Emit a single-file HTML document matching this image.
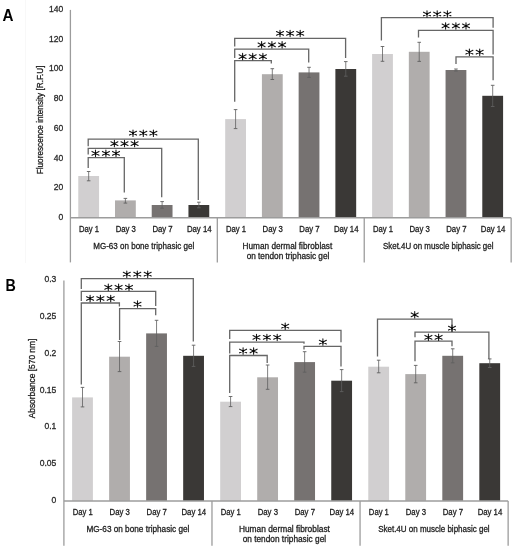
<!DOCTYPE html>
<html><head><meta charset="utf-8"><style>
html,body{margin:0;padding:0;background:#fff;}
svg{display:block;font-family:"Liberation Sans", sans-serif;will-change:transform;}
</style></head><body>
<svg width="516" height="550" viewBox="0 0 516 550">
<rect width="516" height="550" fill="#fff"/>
<rect x="78.27" y="176.00" width="20.80" height="41.80" fill="#d1cfd0"/>
<line x1="88.67" y1="171.50" x2="88.67" y2="180.80" stroke="#606060" stroke-width="0.8"/>
<line x1="86.87" y1="171.50" x2="90.47" y2="171.50" stroke="#606060" stroke-width="0.9"/>
<line x1="86.87" y1="180.80" x2="90.47" y2="180.80" stroke="#606060" stroke-width="0.9"/>
<rect x="115.00" y="200.40" width="20.80" height="17.40" fill="#b0adac"/>
<line x1="125.40" y1="198.40" x2="125.40" y2="203.10" stroke="#606060" stroke-width="0.8"/>
<line x1="123.60" y1="198.40" x2="127.20" y2="198.40" stroke="#606060" stroke-width="0.9"/>
<line x1="123.60" y1="203.10" x2="127.20" y2="203.10" stroke="#606060" stroke-width="0.9"/>
<rect x="151.72" y="205.00" width="20.80" height="12.80" fill="#767271"/>
<line x1="162.12" y1="201.60" x2="162.12" y2="208.20" stroke="#606060" stroke-width="0.8"/>
<line x1="160.32" y1="201.60" x2="163.93" y2="201.60" stroke="#606060" stroke-width="0.9"/>
<line x1="160.32" y1="208.20" x2="163.93" y2="208.20" stroke="#606060" stroke-width="0.9"/>
<rect x="188.45" y="205.00" width="20.80" height="12.80" fill="#3a3836"/>
<line x1="198.85" y1="202.20" x2="198.85" y2="207.80" stroke="#606060" stroke-width="0.8"/>
<line x1="197.05" y1="202.20" x2="200.66" y2="202.20" stroke="#606060" stroke-width="0.9"/>
<line x1="197.05" y1="207.80" x2="200.66" y2="207.80" stroke="#606060" stroke-width="0.9"/>
<rect x="225.19" y="119.10" width="20.80" height="98.70" fill="#d1cfd0"/>
<line x1="235.59" y1="109.60" x2="235.59" y2="128.60" stroke="#606060" stroke-width="0.8"/>
<line x1="233.78" y1="109.60" x2="237.39" y2="109.60" stroke="#606060" stroke-width="0.9"/>
<line x1="233.78" y1="128.60" x2="237.39" y2="128.60" stroke="#606060" stroke-width="0.9"/>
<rect x="261.91" y="74.20" width="20.80" height="143.60" fill="#b0adac"/>
<line x1="272.31" y1="68.70" x2="272.31" y2="79.50" stroke="#606060" stroke-width="0.8"/>
<line x1="270.51" y1="68.70" x2="274.11" y2="68.70" stroke="#606060" stroke-width="0.9"/>
<line x1="270.51" y1="79.50" x2="274.11" y2="79.50" stroke="#606060" stroke-width="0.9"/>
<rect x="298.64" y="72.40" width="20.80" height="145.40" fill="#767271"/>
<line x1="309.04" y1="67.30" x2="309.04" y2="77.40" stroke="#606060" stroke-width="0.8"/>
<line x1="307.24" y1="67.30" x2="310.84" y2="67.30" stroke="#606060" stroke-width="0.9"/>
<line x1="307.24" y1="77.40" x2="310.84" y2="77.40" stroke="#606060" stroke-width="0.9"/>
<rect x="335.38" y="69.00" width="20.80" height="148.80" fill="#3a3836"/>
<line x1="345.77" y1="61.60" x2="345.77" y2="76.20" stroke="#606060" stroke-width="0.8"/>
<line x1="343.97" y1="61.60" x2="347.57" y2="61.60" stroke="#606060" stroke-width="0.9"/>
<line x1="343.97" y1="76.20" x2="347.57" y2="76.20" stroke="#606060" stroke-width="0.9"/>
<rect x="372.11" y="54.00" width="20.80" height="163.80" fill="#d1cfd0"/>
<line x1="382.50" y1="46.50" x2="382.50" y2="61.30" stroke="#606060" stroke-width="0.8"/>
<line x1="380.70" y1="46.50" x2="384.31" y2="46.50" stroke="#606060" stroke-width="0.9"/>
<line x1="380.70" y1="61.30" x2="384.31" y2="61.30" stroke="#606060" stroke-width="0.9"/>
<rect x="408.83" y="51.80" width="20.80" height="166.00" fill="#b0adac"/>
<line x1="419.23" y1="42.30" x2="419.23" y2="61.40" stroke="#606060" stroke-width="0.8"/>
<line x1="417.43" y1="42.30" x2="421.03" y2="42.30" stroke="#606060" stroke-width="0.9"/>
<line x1="417.43" y1="61.40" x2="421.03" y2="61.40" stroke="#606060" stroke-width="0.9"/>
<rect x="445.56" y="70.00" width="20.80" height="147.80" fill="#767271"/>
<line x1="455.96" y1="69.00" x2="455.96" y2="71.00" stroke="#606060" stroke-width="0.8"/>
<line x1="454.16" y1="69.00" x2="457.76" y2="69.00" stroke="#606060" stroke-width="0.9"/>
<line x1="454.16" y1="71.00" x2="457.76" y2="71.00" stroke="#606060" stroke-width="0.9"/>
<rect x="482.29" y="95.80" width="20.80" height="122.00" fill="#3a3836"/>
<line x1="492.69" y1="85.30" x2="492.69" y2="106.50" stroke="#606060" stroke-width="0.8"/>
<line x1="490.89" y1="85.30" x2="494.49" y2="85.30" stroke="#606060" stroke-width="0.9"/>
<line x1="490.89" y1="106.50" x2="494.49" y2="106.50" stroke="#606060" stroke-width="0.9"/>
<line x1="70.40" y1="9.90" x2="70.40" y2="262.40" stroke="#9c9c9c" stroke-width="1.3"/>
<line x1="70.40" y1="217.80" x2="511.16" y2="217.80" stroke="#9c9c9c" stroke-width="1.5"/>
<line x1="217.32" y1="217.80" x2="217.32" y2="262.40" stroke="#9c9c9c" stroke-width="1.3"/>
<line x1="364.24" y1="217.80" x2="364.24" y2="262.40" stroke="#9c9c9c" stroke-width="1.3"/>
<line x1="511.16" y1="217.80" x2="511.16" y2="262.40" stroke="#9c9c9c" stroke-width="1.3"/>
<path d="M88.20 168.00 L88.20 157.60 L124.30 157.60 L124.30 192.60" stroke="#666666" stroke-width="1.3" fill="none"/>
<path d="M88.20 154.60 L88.20 148.30 L161.70 148.30 L161.70 197.20" stroke="#666666" stroke-width="1.3" fill="none"/>
<path d="M88.20 146.20 L88.20 139.10 L198.30 139.10 L198.30 200.00" stroke="#666666" stroke-width="1.3" fill="none"/>
<path d="M234.70 46.50 L234.70 38.40 L345.60 38.40 L345.60 58.00" stroke="#666666" stroke-width="1.3" fill="none"/>
<path d="M234.70 58.10 L234.70 49.20 L308.70 49.20 L308.70 62.60" stroke="#666666" stroke-width="1.3" fill="none"/>
<path d="M234.70 101.80 L234.70 60.60 L271.30 60.60 L271.30 63.60" stroke="#666666" stroke-width="1.3" fill="none"/>
<path d="M381.40 40.50 L381.40 17.60 L493.10 17.60 L493.10 27.70" stroke="#666666" stroke-width="1.3" fill="none"/>
<path d="M418.50 37.60 L418.50 30.30 L493.10 30.30 L493.10 54.50" stroke="#666666" stroke-width="1.3" fill="none"/>
<path d="M456.00 64.00 L456.00 56.80 L493.10 56.80 L493.10 80.30" stroke="#666666" stroke-width="1.3" fill="none"/>
<path d="M95.50 150.10V156.50M92.00 151.45L99.00 155.15M92.00 155.15L99.00 151.45" stroke="#1a1a1a" stroke-width="1.1" stroke-linecap="round" fill="none"/><circle cx="95.50" cy="153.30" r="0.95" fill="#000"/>
<path d="M105.90 150.10V156.50M102.40 151.45L109.40 155.15M102.40 155.15L109.40 151.45" stroke="#1a1a1a" stroke-width="1.1" stroke-linecap="round" fill="none"/><circle cx="105.90" cy="153.30" r="0.95" fill="#000"/>
<path d="M116.00 150.10V156.50M112.50 151.45L119.50 155.15M112.50 155.15L119.50 151.45" stroke="#1a1a1a" stroke-width="1.1" stroke-linecap="round" fill="none"/><circle cx="116.00" cy="153.30" r="0.95" fill="#000"/>
<path d="M114.40 140.40V146.80M110.90 141.75L117.90 145.45M110.90 145.45L117.90 141.75" stroke="#1a1a1a" stroke-width="1.1" stroke-linecap="round" fill="none"/><circle cx="114.40" cy="143.60" r="0.95" fill="#000"/>
<path d="M124.50 140.40V146.80M121.00 141.75L128.00 145.45M121.00 145.45L128.00 141.75" stroke="#1a1a1a" stroke-width="1.1" stroke-linecap="round" fill="none"/><circle cx="124.50" cy="143.60" r="0.95" fill="#000"/>
<path d="M134.60 140.40V146.80M131.10 141.75L138.10 145.45M131.10 145.45L138.10 141.75" stroke="#1a1a1a" stroke-width="1.1" stroke-linecap="round" fill="none"/><circle cx="134.60" cy="143.60" r="0.95" fill="#000"/>
<path d="M133.00 130.00V136.40M129.50 131.35L136.50 135.05M129.50 135.05L136.50 131.35" stroke="#1a1a1a" stroke-width="1.1" stroke-linecap="round" fill="none"/><circle cx="133.00" cy="133.20" r="0.95" fill="#000"/>
<path d="M143.30 130.00V136.40M139.80 131.35L146.80 135.05M139.80 135.05L146.80 131.35" stroke="#1a1a1a" stroke-width="1.1" stroke-linecap="round" fill="none"/><circle cx="143.30" cy="133.20" r="0.95" fill="#000"/>
<path d="M153.40 130.00V136.40M149.90 131.35L156.90 135.05M149.90 135.05L156.90 131.35" stroke="#1a1a1a" stroke-width="1.1" stroke-linecap="round" fill="none"/><circle cx="153.40" cy="133.20" r="0.95" fill="#000"/>
<path d="M242.60 53.40V59.80M239.10 54.75L246.10 58.45M239.10 58.45L246.10 54.75" stroke="#1a1a1a" stroke-width="1.1" stroke-linecap="round" fill="none"/><circle cx="242.60" cy="56.60" r="0.95" fill="#000"/>
<path d="M252.70 53.40V59.80M249.20 54.75L256.20 58.45M249.20 58.45L256.20 54.75" stroke="#1a1a1a" stroke-width="1.1" stroke-linecap="round" fill="none"/><circle cx="252.70" cy="56.60" r="0.95" fill="#000"/>
<path d="M262.90 53.40V59.80M259.40 54.75L266.40 58.45M259.40 58.45L266.40 54.75" stroke="#1a1a1a" stroke-width="1.1" stroke-linecap="round" fill="none"/><circle cx="262.90" cy="56.60" r="0.95" fill="#000"/>
<path d="M261.60 41.60V48.00M258.10 42.95L265.10 46.65M258.10 46.65L265.10 42.95" stroke="#1a1a1a" stroke-width="1.1" stroke-linecap="round" fill="none"/><circle cx="261.60" cy="44.80" r="0.95" fill="#000"/>
<path d="M271.90 41.60V48.00M268.40 42.95L275.40 46.65M268.40 46.65L275.40 42.95" stroke="#1a1a1a" stroke-width="1.1" stroke-linecap="round" fill="none"/><circle cx="271.90" cy="44.80" r="0.95" fill="#000"/>
<path d="M282.10 41.60V48.00M278.60 42.95L285.60 46.65M278.60 46.65L285.60 42.95" stroke="#1a1a1a" stroke-width="1.1" stroke-linecap="round" fill="none"/><circle cx="282.10" cy="44.80" r="0.95" fill="#000"/>
<path d="M280.00 30.20V36.60M276.50 31.55L283.50 35.25M276.50 35.25L283.50 31.55" stroke="#1a1a1a" stroke-width="1.1" stroke-linecap="round" fill="none"/><circle cx="280.00" cy="33.40" r="0.95" fill="#000"/>
<path d="M290.10 30.20V36.60M286.60 31.55L293.60 35.25M286.60 35.25L293.60 31.55" stroke="#1a1a1a" stroke-width="1.1" stroke-linecap="round" fill="none"/><circle cx="290.10" cy="33.40" r="0.95" fill="#000"/>
<path d="M300.20 30.20V36.60M296.70 31.55L303.70 35.25M296.70 35.25L303.70 31.55" stroke="#1a1a1a" stroke-width="1.1" stroke-linecap="round" fill="none"/><circle cx="300.20" cy="33.40" r="0.95" fill="#000"/>
<path d="M427.00 10.80V17.20M423.50 12.15L430.50 15.85M423.50 15.85L430.50 12.15" stroke="#1a1a1a" stroke-width="1.1" stroke-linecap="round" fill="none"/><circle cx="427.00" cy="14.00" r="0.95" fill="#000"/>
<path d="M437.20 10.80V17.20M433.70 12.15L440.70 15.85M433.70 15.85L440.70 12.15" stroke="#1a1a1a" stroke-width="1.1" stroke-linecap="round" fill="none"/><circle cx="437.20" cy="14.00" r="0.95" fill="#000"/>
<path d="M447.40 10.80V17.20M443.90 12.15L450.90 15.85M443.90 15.85L450.90 12.15" stroke="#1a1a1a" stroke-width="1.1" stroke-linecap="round" fill="none"/><circle cx="447.40" cy="14.00" r="0.95" fill="#000"/>
<path d="M445.60 22.70V29.10M442.10 24.05L449.10 27.75M442.10 27.75L449.10 24.05" stroke="#1a1a1a" stroke-width="1.1" stroke-linecap="round" fill="none"/><circle cx="445.60" cy="25.90" r="0.95" fill="#000"/>
<path d="M455.90 22.70V29.10M452.40 24.05L459.40 27.75M452.40 27.75L459.40 24.05" stroke="#1a1a1a" stroke-width="1.1" stroke-linecap="round" fill="none"/><circle cx="455.90" cy="25.90" r="0.95" fill="#000"/>
<path d="M466.00 22.70V29.10M462.50 24.05L469.50 27.75M462.50 27.75L469.50 24.05" stroke="#1a1a1a" stroke-width="1.1" stroke-linecap="round" fill="none"/><circle cx="466.00" cy="25.90" r="0.95" fill="#000"/>
<path d="M469.40 49.00V55.40M465.90 50.35L472.90 54.05M465.90 54.05L472.90 50.35" stroke="#1a1a1a" stroke-width="1.1" stroke-linecap="round" fill="none"/><circle cx="469.40" cy="52.20" r="0.95" fill="#000"/>
<path d="M479.70 49.00V55.40M476.20 50.35L483.20 54.05M476.20 54.05L483.20 50.35" stroke="#1a1a1a" stroke-width="1.1" stroke-linecap="round" fill="none"/><circle cx="479.70" cy="52.20" r="0.95" fill="#000"/>
<text x="63.20" y="219.90" font-size="9.1" text-anchor="end" fill="#2a2a2a" textLength="4.76" lengthAdjust="spacingAndGlyphs" stroke="#2a2a2a" stroke-width="0.3">0</text>
<text x="63.20" y="190.20" font-size="9.1" text-anchor="end" fill="#2a2a2a" textLength="9.51" lengthAdjust="spacingAndGlyphs" stroke="#2a2a2a" stroke-width="0.3">20</text>
<text x="63.20" y="160.50" font-size="9.1" text-anchor="end" fill="#2a2a2a" textLength="9.51" lengthAdjust="spacingAndGlyphs" stroke="#2a2a2a" stroke-width="0.3">40</text>
<text x="63.20" y="130.80" font-size="9.1" text-anchor="end" fill="#2a2a2a" textLength="9.51" lengthAdjust="spacingAndGlyphs" stroke="#2a2a2a" stroke-width="0.3">60</text>
<text x="63.20" y="101.10" font-size="9.1" text-anchor="end" fill="#2a2a2a" textLength="9.51" lengthAdjust="spacingAndGlyphs" stroke="#2a2a2a" stroke-width="0.3">80</text>
<text x="63.20" y="71.40" font-size="9.1" text-anchor="end" fill="#2a2a2a" textLength="14.27" lengthAdjust="spacingAndGlyphs" stroke="#2a2a2a" stroke-width="0.3">100</text>
<text x="63.20" y="41.70" font-size="9.1" text-anchor="end" fill="#2a2a2a" textLength="14.27" lengthAdjust="spacingAndGlyphs" stroke="#2a2a2a" stroke-width="0.3">120</text>
<text x="63.20" y="12.00" font-size="9.1" text-anchor="end" fill="#2a2a2a" textLength="14.27" lengthAdjust="spacingAndGlyphs" stroke="#2a2a2a" stroke-width="0.3">140</text>
<text x="89.06" y="231.80" font-size="8.6" text-anchor="middle" fill="#1e1e1e" textLength="20.0" lengthAdjust="spacingAndGlyphs" stroke="#1e1e1e" stroke-width="0.3">Day 1</text>
<text x="125.80" y="231.80" font-size="8.6" text-anchor="middle" fill="#1e1e1e" textLength="20.3" lengthAdjust="spacingAndGlyphs" stroke="#1e1e1e" stroke-width="0.3">Day 3</text>
<text x="162.53" y="231.80" font-size="8.6" text-anchor="middle" fill="#1e1e1e" textLength="20.3" lengthAdjust="spacingAndGlyphs" stroke="#1e1e1e" stroke-width="0.3">Day 7</text>
<text x="199.25" y="231.80" font-size="8.6" text-anchor="middle" fill="#1e1e1e" textLength="24.6" lengthAdjust="spacingAndGlyphs" stroke="#1e1e1e" stroke-width="0.3">Day 14</text>
<text x="235.99" y="231.80" font-size="8.6" text-anchor="middle" fill="#1e1e1e" textLength="20.0" lengthAdjust="spacingAndGlyphs" stroke="#1e1e1e" stroke-width="0.3">Day 1</text>
<text x="272.71" y="231.80" font-size="8.6" text-anchor="middle" fill="#1e1e1e" textLength="20.3" lengthAdjust="spacingAndGlyphs" stroke="#1e1e1e" stroke-width="0.3">Day 3</text>
<text x="309.44" y="231.80" font-size="8.6" text-anchor="middle" fill="#1e1e1e" textLength="20.3" lengthAdjust="spacingAndGlyphs" stroke="#1e1e1e" stroke-width="0.3">Day 7</text>
<text x="346.18" y="231.80" font-size="8.6" text-anchor="middle" fill="#1e1e1e" textLength="24.6" lengthAdjust="spacingAndGlyphs" stroke="#1e1e1e" stroke-width="0.3">Day 14</text>
<text x="382.91" y="231.80" font-size="8.6" text-anchor="middle" fill="#1e1e1e" textLength="20.0" lengthAdjust="spacingAndGlyphs" stroke="#1e1e1e" stroke-width="0.3">Day 1</text>
<text x="419.63" y="231.80" font-size="8.6" text-anchor="middle" fill="#1e1e1e" textLength="20.3" lengthAdjust="spacingAndGlyphs" stroke="#1e1e1e" stroke-width="0.3">Day 3</text>
<text x="456.36" y="231.80" font-size="8.6" text-anchor="middle" fill="#1e1e1e" textLength="20.3" lengthAdjust="spacingAndGlyphs" stroke="#1e1e1e" stroke-width="0.3">Day 7</text>
<text x="493.09" y="231.80" font-size="8.6" text-anchor="middle" fill="#1e1e1e" textLength="24.6" lengthAdjust="spacingAndGlyphs" stroke="#1e1e1e" stroke-width="0.3">Day 14</text>
<text x="143.70" y="248.80" font-size="8.7" text-anchor="middle" fill="#1e1e1e" textLength="101" lengthAdjust="spacingAndGlyphs" stroke="#1e1e1e" stroke-width="0.3">MG-63 on bone triphasic gel</text>
<text x="287.40" y="248.90" font-size="8.7" text-anchor="middle" fill="#1e1e1e" textLength="89.6" lengthAdjust="spacingAndGlyphs" stroke="#1e1e1e" stroke-width="0.3">Human dermal fibroblast</text>
<text x="288.00" y="258.70" font-size="8.7" text-anchor="middle" fill="#1e1e1e" textLength="82.7" lengthAdjust="spacingAndGlyphs" stroke="#1e1e1e" stroke-width="0.3">on tendon triphasic gel</text>
<text x="438.20" y="248.90" font-size="8.7" text-anchor="middle" fill="#1e1e1e" textLength="110.4" lengthAdjust="spacingAndGlyphs" stroke="#1e1e1e" stroke-width="0.3">Sket.4U on muscle biphasic gel</text>
<text transform="translate(43.30 119.90) rotate(-90)" font-size="9.0" text-anchor="middle" fill="#1e1e1e" stroke="#1e1e1e" stroke-width="0.3" textLength="108.7" lengthAdjust="spacingAndGlyphs">Fluorescence intensity [R.F.U]</text>
<rect x="72.11" y="397.40" width="20.80" height="103.50" fill="#d1cfd0"/>
<line x1="82.51" y1="387.40" x2="82.51" y2="406.90" stroke="#606060" stroke-width="0.8"/>
<line x1="80.71" y1="387.40" x2="84.31" y2="387.40" stroke="#606060" stroke-width="0.9"/>
<line x1="80.71" y1="406.90" x2="84.31" y2="406.90" stroke="#606060" stroke-width="0.9"/>
<rect x="109.13" y="356.70" width="20.80" height="144.20" fill="#b0adac"/>
<line x1="119.53" y1="341.50" x2="119.53" y2="371.60" stroke="#606060" stroke-width="0.8"/>
<line x1="117.73" y1="341.50" x2="121.33" y2="341.50" stroke="#606060" stroke-width="0.9"/>
<line x1="117.73" y1="371.60" x2="121.33" y2="371.60" stroke="#606060" stroke-width="0.9"/>
<rect x="146.15" y="333.40" width="20.80" height="167.50" fill="#767271"/>
<line x1="156.55" y1="320.30" x2="156.55" y2="346.40" stroke="#606060" stroke-width="0.8"/>
<line x1="154.75" y1="320.30" x2="158.35" y2="320.30" stroke="#606060" stroke-width="0.9"/>
<line x1="154.75" y1="346.40" x2="158.35" y2="346.40" stroke="#606060" stroke-width="0.9"/>
<rect x="183.17" y="355.80" width="20.80" height="145.10" fill="#3a3836"/>
<line x1="193.57" y1="345.20" x2="193.57" y2="366.40" stroke="#606060" stroke-width="0.8"/>
<line x1="191.77" y1="345.20" x2="195.37" y2="345.20" stroke="#606060" stroke-width="0.9"/>
<line x1="191.77" y1="366.40" x2="195.37" y2="366.40" stroke="#606060" stroke-width="0.9"/>
<rect x="220.19" y="401.70" width="20.80" height="99.20" fill="#d1cfd0"/>
<line x1="230.59" y1="396.50" x2="230.59" y2="406.60" stroke="#606060" stroke-width="0.8"/>
<line x1="228.79" y1="396.50" x2="232.39" y2="396.50" stroke="#606060" stroke-width="0.9"/>
<line x1="228.79" y1="406.60" x2="232.39" y2="406.60" stroke="#606060" stroke-width="0.9"/>
<rect x="257.21" y="377.30" width="20.80" height="123.60" fill="#b0adac"/>
<line x1="267.61" y1="365.00" x2="267.61" y2="389.30" stroke="#606060" stroke-width="0.8"/>
<line x1="265.81" y1="365.00" x2="269.41" y2="365.00" stroke="#606060" stroke-width="0.9"/>
<line x1="265.81" y1="389.30" x2="269.41" y2="389.30" stroke="#606060" stroke-width="0.9"/>
<rect x="294.23" y="362.10" width="20.80" height="138.80" fill="#767271"/>
<line x1="304.63" y1="351.70" x2="304.63" y2="372.20" stroke="#606060" stroke-width="0.8"/>
<line x1="302.83" y1="351.70" x2="306.43" y2="351.70" stroke="#606060" stroke-width="0.9"/>
<line x1="302.83" y1="372.20" x2="306.43" y2="372.20" stroke="#606060" stroke-width="0.9"/>
<rect x="331.25" y="380.70" width="20.80" height="120.20" fill="#3a3836"/>
<line x1="341.65" y1="369.60" x2="341.65" y2="391.60" stroke="#606060" stroke-width="0.8"/>
<line x1="339.85" y1="369.60" x2="343.45" y2="369.60" stroke="#606060" stroke-width="0.9"/>
<line x1="339.85" y1="391.60" x2="343.45" y2="391.60" stroke="#606060" stroke-width="0.9"/>
<rect x="368.27" y="366.70" width="20.80" height="134.20" fill="#d1cfd0"/>
<line x1="378.67" y1="360.20" x2="378.67" y2="372.80" stroke="#606060" stroke-width="0.8"/>
<line x1="376.87" y1="360.20" x2="380.47" y2="360.20" stroke="#606060" stroke-width="0.9"/>
<line x1="376.87" y1="372.80" x2="380.47" y2="372.80" stroke="#606060" stroke-width="0.9"/>
<rect x="405.29" y="374.10" width="20.80" height="126.80" fill="#b0adac"/>
<line x1="415.69" y1="365.40" x2="415.69" y2="382.80" stroke="#606060" stroke-width="0.8"/>
<line x1="413.89" y1="365.40" x2="417.49" y2="365.40" stroke="#606060" stroke-width="0.9"/>
<line x1="413.89" y1="382.80" x2="417.49" y2="382.80" stroke="#606060" stroke-width="0.9"/>
<rect x="442.31" y="355.80" width="20.80" height="145.10" fill="#767271"/>
<line x1="452.71" y1="348.80" x2="452.71" y2="362.80" stroke="#606060" stroke-width="0.8"/>
<line x1="450.91" y1="348.80" x2="454.51" y2="348.80" stroke="#606060" stroke-width="0.9"/>
<line x1="450.91" y1="362.80" x2="454.51" y2="362.80" stroke="#606060" stroke-width="0.9"/>
<rect x="479.33" y="363.20" width="20.80" height="137.70" fill="#3a3836"/>
<line x1="489.73" y1="358.90" x2="489.73" y2="367.50" stroke="#606060" stroke-width="0.8"/>
<line x1="487.93" y1="358.90" x2="491.53" y2="358.90" stroke="#606060" stroke-width="0.9"/>
<line x1="487.93" y1="367.50" x2="491.53" y2="367.50" stroke="#606060" stroke-width="0.9"/>
<line x1="63.90" y1="280.50" x2="63.90" y2="545.80" stroke="#9c9c9c" stroke-width="1.3"/>
<line x1="63.90" y1="500.90" x2="508.14" y2="500.90" stroke="#9c9c9c" stroke-width="1.5"/>
<line x1="211.98" y1="500.90" x2="211.98" y2="545.80" stroke="#9c9c9c" stroke-width="1.3"/>
<line x1="360.06" y1="500.90" x2="360.06" y2="545.80" stroke="#9c9c9c" stroke-width="1.3"/>
<line x1="508.14" y1="500.90" x2="508.14" y2="545.80" stroke="#9c9c9c" stroke-width="1.3"/>
<path d="M81.30 289.00 L81.30 278.60 L193.30 278.60 L193.30 341.60" stroke="#666666" stroke-width="1.3" fill="none"/>
<path d="M81.30 301.00 L81.30 291.40 L155.70 291.40 L155.70 306.00" stroke="#666666" stroke-width="1.3" fill="none"/>
<path d="M81.30 384.50 L81.30 303.00 L119.40 303.00 L119.40 306.60" stroke="#666666" stroke-width="1.3" fill="none"/>
<path d="M119.60 340.00 L119.60 308.60 L155.70 308.60 L155.70 315.30" stroke="#666666" stroke-width="1.3" fill="none"/>
<path d="M229.70 339.00 L229.70 330.30 L341.00 330.30 L341.00 342.30" stroke="#666666" stroke-width="1.3" fill="none"/>
<path d="M229.70 353.40 L229.70 342.20 L304.00 342.20 L304.00 343.80" stroke="#666666" stroke-width="1.3" fill="none"/>
<path d="M229.70 393.00 L229.70 355.50 L267.20 355.50 L267.20 362.90" stroke="#666666" stroke-width="1.3" fill="none"/>
<path d="M304.00 349.50 L304.00 346.40 L341.00 346.40 L341.00 366.40" stroke="#666666" stroke-width="1.3" fill="none"/>
<path d="M377.50 356.60 L377.50 319.20 L452.00 319.20 L452.00 331.80" stroke="#666666" stroke-width="1.3" fill="none"/>
<path d="M415.00 337.20 L415.00 332.20 L488.90 332.20 L488.90 358.90" stroke="#666666" stroke-width="1.3" fill="none"/>
<path d="M415.00 361.20 L415.00 341.20 L452.00 341.20 L452.00 346.20" stroke="#666666" stroke-width="1.3" fill="none"/>
<path d="M126.80 271.00V277.40M123.30 272.35L130.30 276.05M123.30 276.05L130.30 272.35" stroke="#1a1a1a" stroke-width="1.1" stroke-linecap="round" fill="none"/><circle cx="126.80" cy="274.20" r="0.95" fill="#000"/>
<path d="M137.30 271.00V277.40M133.80 272.35L140.80 276.05M133.80 276.05L140.80 272.35" stroke="#1a1a1a" stroke-width="1.1" stroke-linecap="round" fill="none"/><circle cx="137.30" cy="274.20" r="0.95" fill="#000"/>
<path d="M147.70 271.00V277.40M144.20 272.35L151.20 276.05M144.20 276.05L151.20 272.35" stroke="#1a1a1a" stroke-width="1.1" stroke-linecap="round" fill="none"/><circle cx="147.70" cy="274.20" r="0.95" fill="#000"/>
<path d="M108.30 284.10V290.50M104.80 285.45L111.80 289.15M104.80 289.15L111.80 285.45" stroke="#1a1a1a" stroke-width="1.1" stroke-linecap="round" fill="none"/><circle cx="108.30" cy="287.30" r="0.95" fill="#000"/>
<path d="M118.60 284.10V290.50M115.10 285.45L122.10 289.15M115.10 289.15L122.10 285.45" stroke="#1a1a1a" stroke-width="1.1" stroke-linecap="round" fill="none"/><circle cx="118.60" cy="287.30" r="0.95" fill="#000"/>
<path d="M129.00 284.10V290.50M125.50 285.45L132.50 289.15M125.50 289.15L132.50 285.45" stroke="#1a1a1a" stroke-width="1.1" stroke-linecap="round" fill="none"/><circle cx="129.00" cy="287.30" r="0.95" fill="#000"/>
<path d="M90.10 295.30V301.70M86.60 296.65L93.60 300.35M86.60 300.35L93.60 296.65" stroke="#1a1a1a" stroke-width="1.1" stroke-linecap="round" fill="none"/><circle cx="90.10" cy="298.50" r="0.95" fill="#000"/>
<path d="M100.40 295.30V301.70M96.90 296.65L103.90 300.35M96.90 300.35L103.90 296.65" stroke="#1a1a1a" stroke-width="1.1" stroke-linecap="round" fill="none"/><circle cx="100.40" cy="298.50" r="0.95" fill="#000"/>
<path d="M110.70 295.30V301.70M107.20 296.65L114.20 300.35M107.20 300.35L114.20 296.65" stroke="#1a1a1a" stroke-width="1.1" stroke-linecap="round" fill="none"/><circle cx="110.70" cy="298.50" r="0.95" fill="#000"/>
<path d="M137.50 300.90V307.30M134.00 302.25L141.00 305.95M134.00 305.95L141.00 302.25" stroke="#1a1a1a" stroke-width="1.1" stroke-linecap="round" fill="none"/><circle cx="137.50" cy="304.10" r="0.95" fill="#000"/>
<path d="M285.20 323.00V329.40M281.70 324.35L288.70 328.05M281.70 328.05L288.70 324.35" stroke="#1a1a1a" stroke-width="1.1" stroke-linecap="round" fill="none"/><circle cx="285.20" cy="326.20" r="0.95" fill="#000"/>
<path d="M256.50 334.20V340.60M253.00 335.55L260.00 339.25M253.00 339.25L260.00 335.55" stroke="#1a1a1a" stroke-width="1.1" stroke-linecap="round" fill="none"/><circle cx="256.50" cy="337.40" r="0.95" fill="#000"/>
<path d="M266.90 334.20V340.60M263.40 335.55L270.40 339.25M263.40 339.25L270.40 335.55" stroke="#1a1a1a" stroke-width="1.1" stroke-linecap="round" fill="none"/><circle cx="266.90" cy="337.40" r="0.95" fill="#000"/>
<path d="M277.20 334.20V340.60M273.70 335.55L280.70 339.25M273.70 339.25L280.70 335.55" stroke="#1a1a1a" stroke-width="1.1" stroke-linecap="round" fill="none"/><circle cx="277.20" cy="337.40" r="0.95" fill="#000"/>
<path d="M243.10 347.80V354.20M239.60 349.15L246.60 352.85M239.60 352.85L246.60 349.15" stroke="#1a1a1a" stroke-width="1.1" stroke-linecap="round" fill="none"/><circle cx="243.10" cy="351.00" r="0.95" fill="#000"/>
<path d="M253.60 347.80V354.20M250.10 349.15L257.10 352.85M250.10 352.85L257.10 349.15" stroke="#1a1a1a" stroke-width="1.1" stroke-linecap="round" fill="none"/><circle cx="253.60" cy="351.00" r="0.95" fill="#000"/>
<path d="M322.90 338.90V345.30M319.40 340.25L326.40 343.95M319.40 343.95L326.40 340.25" stroke="#1a1a1a" stroke-width="1.1" stroke-linecap="round" fill="none"/><circle cx="322.90" cy="342.10" r="0.95" fill="#000"/>
<path d="M414.70 311.60V318.00M411.20 312.95L418.20 316.65M411.20 316.65L418.20 312.95" stroke="#1a1a1a" stroke-width="1.1" stroke-linecap="round" fill="none"/><circle cx="414.70" cy="314.80" r="0.95" fill="#000"/>
<path d="M452.00 325.00V331.40M448.50 326.35L455.50 330.05M448.50 330.05L455.50 326.35" stroke="#1a1a1a" stroke-width="1.1" stroke-linecap="round" fill="none"/><circle cx="452.00" cy="328.20" r="0.95" fill="#000"/>
<path d="M428.40 334.10V340.50M424.90 335.45L431.90 339.15M424.90 339.15L431.90 335.45" stroke="#1a1a1a" stroke-width="1.1" stroke-linecap="round" fill="none"/><circle cx="428.40" cy="337.30" r="0.95" fill="#000"/>
<path d="M438.60 334.10V340.50M435.10 335.45L442.10 339.15M435.10 339.15L442.10 335.45" stroke="#1a1a1a" stroke-width="1.1" stroke-linecap="round" fill="none"/><circle cx="438.60" cy="337.30" r="0.95" fill="#000"/>
<text x="56.30" y="502.85" font-size="9.1" text-anchor="end" fill="#2a2a2a" textLength="4.76" lengthAdjust="spacingAndGlyphs" stroke="#2a2a2a" stroke-width="0.3">0</text>
<text x="56.30" y="466.12" font-size="9.1" text-anchor="end" fill="#2a2a2a" textLength="16.65" lengthAdjust="spacingAndGlyphs" stroke="#2a2a2a" stroke-width="0.3">0.05</text>
<text x="56.30" y="429.38" font-size="9.1" text-anchor="end" fill="#2a2a2a" textLength="11.89" lengthAdjust="spacingAndGlyphs" stroke="#2a2a2a" stroke-width="0.3">0.1</text>
<text x="56.30" y="392.65" font-size="9.1" text-anchor="end" fill="#2a2a2a" textLength="16.65" lengthAdjust="spacingAndGlyphs" stroke="#2a2a2a" stroke-width="0.3">0.15</text>
<text x="56.30" y="355.92" font-size="9.1" text-anchor="end" fill="#2a2a2a" textLength="11.89" lengthAdjust="spacingAndGlyphs" stroke="#2a2a2a" stroke-width="0.3">0.2</text>
<text x="56.30" y="319.18" font-size="9.1" text-anchor="end" fill="#2a2a2a" textLength="16.65" lengthAdjust="spacingAndGlyphs" stroke="#2a2a2a" stroke-width="0.3">0.25</text>
<text x="56.30" y="282.45" font-size="9.1" text-anchor="end" fill="#2a2a2a" textLength="11.89" lengthAdjust="spacingAndGlyphs" stroke="#2a2a2a" stroke-width="0.3">0.3</text>
<text x="82.71" y="514.90" font-size="8.6" text-anchor="middle" fill="#1e1e1e" textLength="20.0" lengthAdjust="spacingAndGlyphs" stroke="#1e1e1e" stroke-width="0.3">Day 1</text>
<text x="119.73" y="514.90" font-size="8.6" text-anchor="middle" fill="#1e1e1e" textLength="20.3" lengthAdjust="spacingAndGlyphs" stroke="#1e1e1e" stroke-width="0.3">Day 3</text>
<text x="156.75" y="514.90" font-size="8.6" text-anchor="middle" fill="#1e1e1e" textLength="20.3" lengthAdjust="spacingAndGlyphs" stroke="#1e1e1e" stroke-width="0.3">Day 7</text>
<text x="193.77" y="514.90" font-size="8.6" text-anchor="middle" fill="#1e1e1e" textLength="24.6" lengthAdjust="spacingAndGlyphs" stroke="#1e1e1e" stroke-width="0.3">Day 14</text>
<text x="230.79" y="514.90" font-size="8.6" text-anchor="middle" fill="#1e1e1e" textLength="20.0" lengthAdjust="spacingAndGlyphs" stroke="#1e1e1e" stroke-width="0.3">Day 1</text>
<text x="267.81" y="514.90" font-size="8.6" text-anchor="middle" fill="#1e1e1e" textLength="20.3" lengthAdjust="spacingAndGlyphs" stroke="#1e1e1e" stroke-width="0.3">Day 3</text>
<text x="304.83" y="514.90" font-size="8.6" text-anchor="middle" fill="#1e1e1e" textLength="20.3" lengthAdjust="spacingAndGlyphs" stroke="#1e1e1e" stroke-width="0.3">Day 7</text>
<text x="341.85" y="514.90" font-size="8.6" text-anchor="middle" fill="#1e1e1e" textLength="24.6" lengthAdjust="spacingAndGlyphs" stroke="#1e1e1e" stroke-width="0.3">Day 14</text>
<text x="378.87" y="514.90" font-size="8.6" text-anchor="middle" fill="#1e1e1e" textLength="20.0" lengthAdjust="spacingAndGlyphs" stroke="#1e1e1e" stroke-width="0.3">Day 1</text>
<text x="415.89" y="514.90" font-size="8.6" text-anchor="middle" fill="#1e1e1e" textLength="20.3" lengthAdjust="spacingAndGlyphs" stroke="#1e1e1e" stroke-width="0.3">Day 3</text>
<text x="452.91" y="514.90" font-size="8.6" text-anchor="middle" fill="#1e1e1e" textLength="20.3" lengthAdjust="spacingAndGlyphs" stroke="#1e1e1e" stroke-width="0.3">Day 7</text>
<text x="489.93" y="514.90" font-size="8.6" text-anchor="middle" fill="#1e1e1e" textLength="24.6" lengthAdjust="spacingAndGlyphs" stroke="#1e1e1e" stroke-width="0.3">Day 14</text>
<text x="137.90" y="532.20" font-size="8.7" text-anchor="middle" fill="#1e1e1e" textLength="103" lengthAdjust="spacingAndGlyphs" stroke="#1e1e1e" stroke-width="0.3">MG-63 on bone triphasic gel</text>
<text x="284.40" y="532.20" font-size="8.7" text-anchor="middle" fill="#1e1e1e" textLength="91" lengthAdjust="spacingAndGlyphs" stroke="#1e1e1e" stroke-width="0.3">Human dermal fibroblast</text>
<text x="284.40" y="542.30" font-size="8.7" text-anchor="middle" fill="#1e1e1e" textLength="83.5" lengthAdjust="spacingAndGlyphs" stroke="#1e1e1e" stroke-width="0.3">on tendon triphasic gel</text>
<text x="433.90" y="532.40" font-size="8.7" text-anchor="middle" fill="#1e1e1e" textLength="111.5" lengthAdjust="spacingAndGlyphs" stroke="#1e1e1e" stroke-width="0.3">Sket.4U on muscle biphasic gel</text>
<text transform="translate(34.50 378.50) rotate(-90)" font-size="9.0" text-anchor="middle" fill="#1e1e1e" stroke="#1e1e1e" stroke-width="0.3" textLength="79.7" lengthAdjust="spacingAndGlyphs">Absorbance [570 nm]</text>
<line x1="25.50" y1="0.00" x2="25.50" y2="263.00" stroke="#f8f8f8" stroke-width="1"/>
<text x="2.6" y="20.7" font-size="16.2" font-weight="bold" fill="#000" textLength="11.0" lengthAdjust="spacingAndGlyphs">A</text>
<text x="5.6" y="290.9" font-size="16.6" font-weight="bold" fill="#000" textLength="10.3" lengthAdjust="spacingAndGlyphs">B</text>
</svg>
</body></html>
